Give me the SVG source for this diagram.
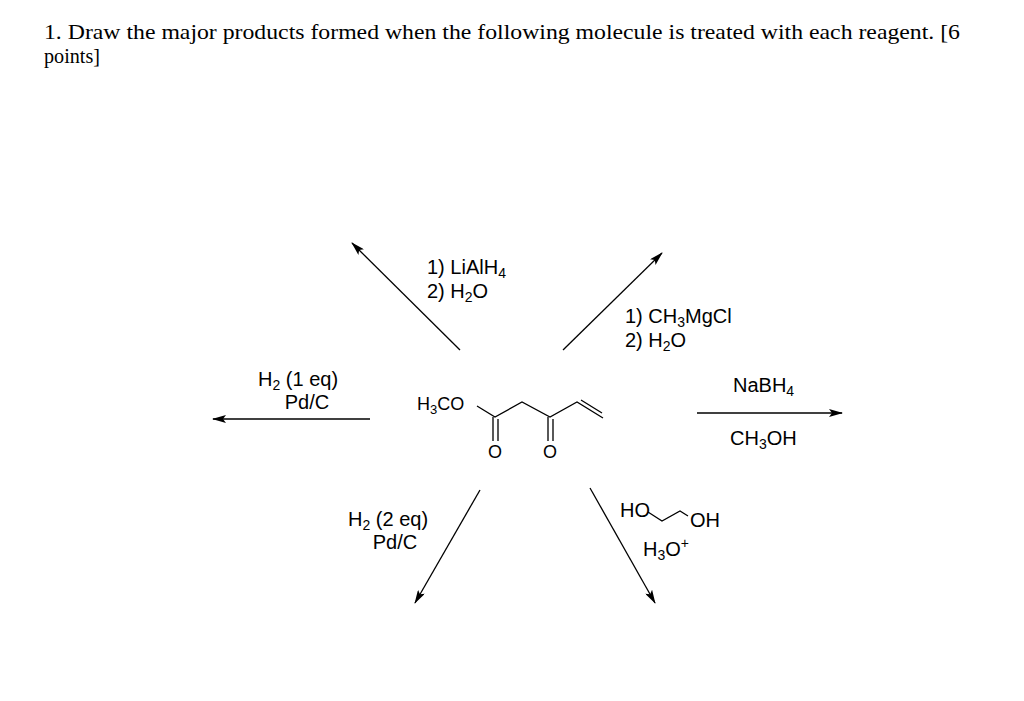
<svg xmlns="http://www.w3.org/2000/svg" width="1024" height="701" viewBox="0 0 1024 701">
<style>
.t{font-family:"Liberation Sans",Arial,sans-serif;font-size:20px;fill:#000}
.m{font-family:"Liberation Sans",Arial,sans-serif;font-size:18px;fill:#000}
.q{font-family:"Liberation Serif","DejaVu Serif",serif;font-size:21px;fill:#000}
.b{stroke:#000;stroke-width:1.3;fill:none}
.a{stroke:#000;stroke-width:1.3;fill:none;marker-end:url(#ah)}
</style>
<defs><marker id="ah" markerWidth="14" markerHeight="8" refX="13" refY="4" orient="auto" markerUnits="userSpaceOnUse"><path d="M0,0 L14,4 L0,8 L3,4 Z" fill="#000"/></marker></defs>
<rect width="1024" height="701" fill="#fff"/>
<text class="q" x="44" y="39" textLength="916" lengthAdjust="spacingAndGlyphs">1. Draw the major products formed when the following molecule is treated with each reagent. [6</text>
<text class="q" x="44" y="63" textLength="56" lengthAdjust="spacingAndGlyphs">points]</text>
<g id="molecule">
<text class="m" x="417" y="410">H<tspan font-size="13" dy="4">3</tspan><tspan dy="-4">CO</tspan></text>
<path class="b" d="M477,406 L495,417 L522,402 L550,417 L577,402 L603,418"/>
<path class="b" d="M581,400 L602,413"/>
<path class="b" d="M493,417 V441 M498,419 V441 M548,417 V441 M553,419 V441"/>
<text class="m" x="495" y="458" text-anchor="middle">O</text>
<text class="m" x="550" y="458" text-anchor="middle">O</text>
</g>
<g id="connectors">
<line class="a" x1="460" y1="350" x2="352" y2="243"/>
<line class="a" x1="563" y1="350" x2="662" y2="253"/>
<line class="a" x1="370" y1="419" x2="213" y2="419"/>
<line class="a" x1="697" y1="413" x2="842" y2="413"/>
<line class="a" x1="480" y1="490" x2="415" y2="603"/>
<line class="a" x1="590" y1="488" x2="655" y2="603"/>
</g>
<g id="r1"><text class="t" x="427" y="274">1) LiAlH<tspan font-size="14" dy="4">4</tspan></text><text class="t" x="427" y="298">2) H<tspan font-size="14" dy="4">2</tspan><tspan dy="-4">O</tspan></text></g>
<g id="r2"><text class="t" x="625" y="323">1) CH<tspan font-size="14" dy="4">3</tspan><tspan dy="-4">MgCl</tspan></text><text class="t" x="625" y="347">2) H<tspan font-size="14" dy="4">2</tspan><tspan dy="-4">O</tspan></text></g>
<g id="r3"><text class="t" x="258" y="386">H<tspan font-size="14" dy="4">2</tspan><tspan dy="-4"> (1 eq)</tspan></text><text class="t" x="307" y="409" text-anchor="middle">Pd/C</text></g>
<g id="r4"><text class="t" x="733" y="392">NaBH<tspan font-size="14" dy="4">4</tspan></text><text class="t" x="730" y="445">CH<tspan font-size="14" dy="4">3</tspan><tspan dy="-4">OH</tspan></text></g>
<g id="r5"><text class="t" x="348" y="526">H<tspan font-size="14" dy="4">2</tspan><tspan dy="-4"> (2 eq)</tspan></text><text class="t" x="395" y="549" text-anchor="middle">Pd/C</text></g>
<g id="r6"><text class="t" x="620" y="517">HO</text><path class="b" d="M648,512 L662,521 L680,511 L688,516"/><text class="t" x="690" y="527">OH</text>
<text class="t" x="643" y="556">H<tspan font-size="14" dy="4">3</tspan><tspan dy="-4">O</tspan><tspan font-size="14" dy="-8">+</tspan></text></g>
</svg>
